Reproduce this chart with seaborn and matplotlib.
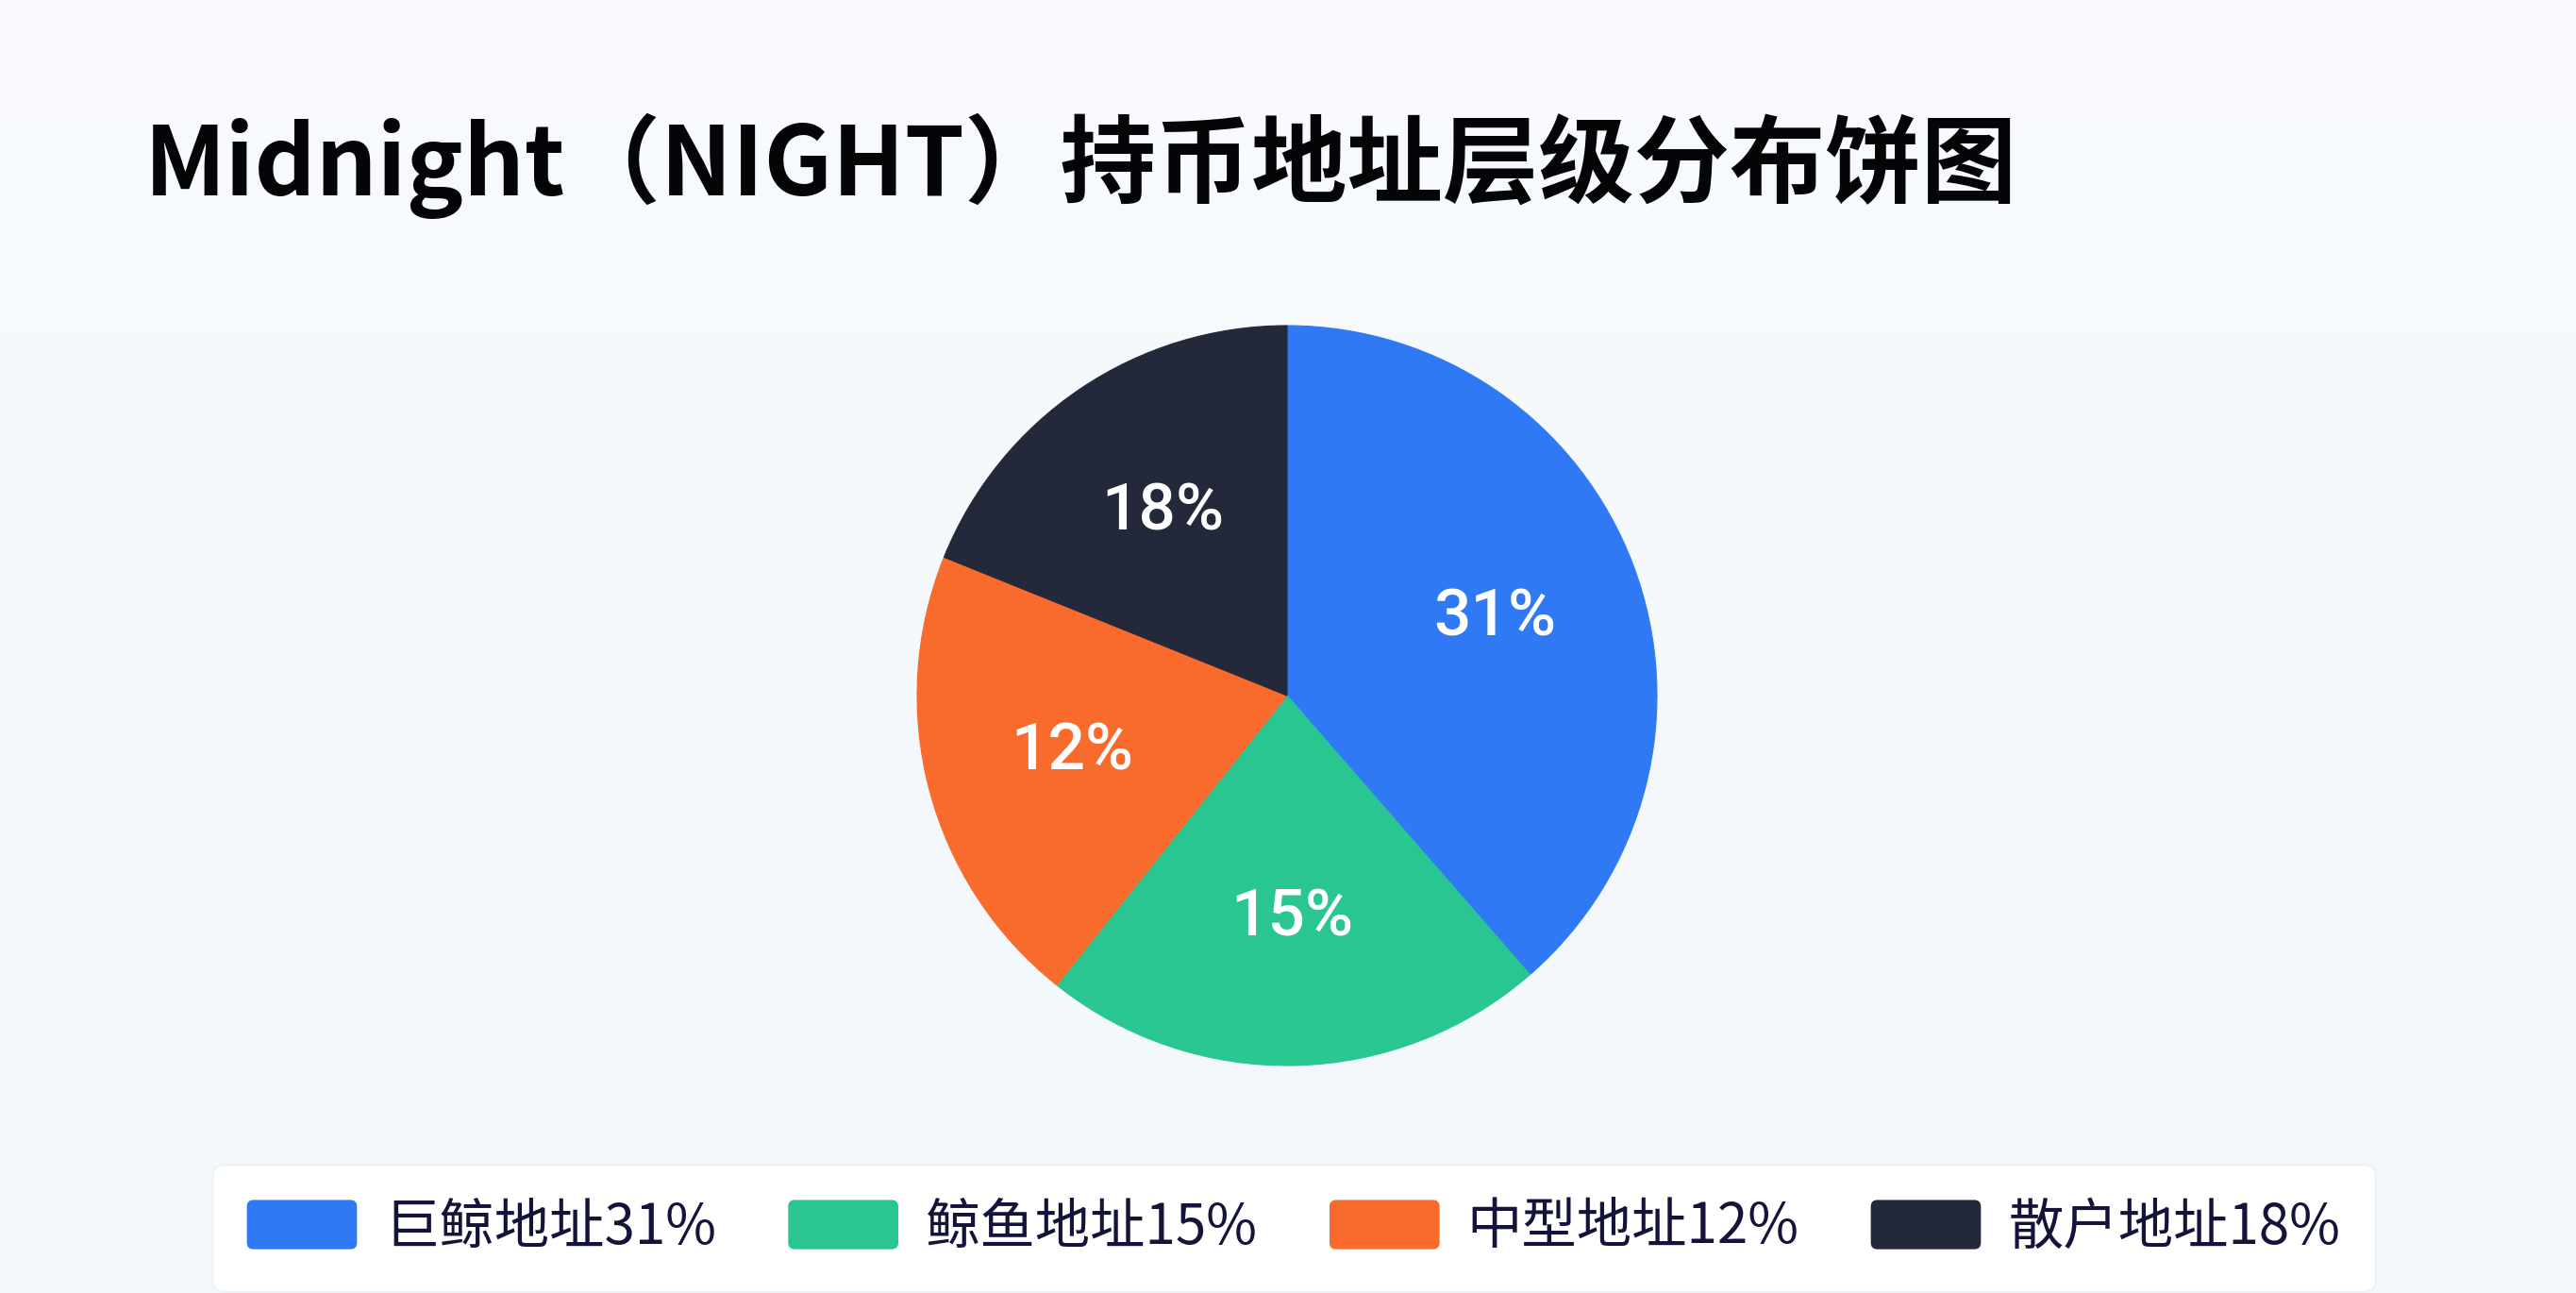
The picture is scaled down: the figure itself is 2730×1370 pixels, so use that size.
import matplotlib
matplotlib.use("Agg")
import matplotlib.pyplot as plt
import seaborn as sns
import numpy as np
from matplotlib.patches import Patch, FancyBboxPatch
from matplotlib.legend_handler import HandlerPatch

# ---- data ----
categories = ["巨鲸地址", "鲸鱼地址", "中型地址", "散户地址"]
pct_labels = [31, 15, 12, 18]                 # percentages printed in the chart
slice_shares = [38.6, 22.1, 20.4, 18.9]       # slice sizes as drawn in the picture
colors = ["#2F7AF4", "#29C692", "#F86B2D", "#23283B"]
title = "Midnight（NIGHT）持币地址层级分布饼图"

sns.set_theme(style="white")
plt.rcParams["font.family"] = ["Noto Sans CJK SC", "DejaVu Sans"]

W, H = 2730, 1370
fig = plt.figure(figsize=(W / 100, H / 100), dpi=100)
bg = "#F5F9FC"
fig.patch.set_facecolor(bg)

# subtle background gradient
bax = fig.add_axes([0, 0, 1, 1], zorder=-10)
top = np.array([0.975, 0.984, 0.993])
bot = np.array([0.950, 0.970, 0.988])
t = np.linspace(0, 1, 256)[:, None]
grad = top[None, :] * (1 - t) + bot[None, :] * t
bax.imshow(grad[:, None, :], aspect="auto", extent=[0, 1, 0, 1])
bax.axis("off")

# pie axes
cx, cy, R = 1364, 737, 392
ax = fig.add_axes([(cx - R) / W, (H - cy - R) / H, 2 * R / W, 2 * R / H])
ax.set_facecolor("none")
wedges, texts = ax.pie(
    slice_shares,
    labels=[f"{p}%" for p in pct_labels],
    colors=sns.color_palette(colors),
    startangle=90,
    counterclock=False,
    radius=1,
    labeldistance=0.6,
    wedgeprops=dict(linewidth=0.8),
    textprops=dict(color="white", fontsize=50, fontweight="medium",
                   ha="center", va="center",
                   family=["Roboto", "Noto Sans CJK SC", "DejaVu Sans"]),
)
for w, c in zip(wedges, colors):
    w.set_edgecolor(c)
ax.set_xlim(-1, 1)
ax.set_ylim(-1, 1)
ax.set_aspect("equal")
ax.axis("off")

# title
fig.text(153 / W, (H - 207) / H, title, ha="left", va="baseline",
         fontsize=73, fontweight="bold", color="#050508")


# rounded legend swatches
class RoundHandler(HandlerPatch):
    def create_artists(self, legend, orig_handle, xdescent, ydescent,
                       width, height, fontsize, trans):
        p = FancyBboxPatch((-xdescent, -ydescent), width, height,
                           boxstyle="round,pad=0,rounding_size=5",
                           facecolor=orig_handle.get_facecolor(),
                           edgecolor="none", transform=trans)
        return [p]


handles = [Patch(facecolor=c, edgecolor="none") for c in colors]
leg_labels = [f"{n}{p}%" for n, p in zip(categories, pct_labels)]
leg = fig.legend(
    handles, leg_labels,
    loc="center", bbox_to_anchor=(1371 / W, 69 / H),
    ncol=4, fontsize=42, frameon=True, fancybox=True,
    handlelength=2.0, handleheight=1.0, handletextpad=0.5,
    columnspacing=1.3, borderpad=0.62,
    handler_map={Patch: RoundHandler()},
)
frame = leg.get_frame()
frame.set_facecolor("white")
frame.set_edgecolor("#EAEFF5")
frame.set_linewidth(1.0)
frame.set_alpha(1.0)
for tx in leg.get_texts():
    tx.set_color("#14143A")

fig.savefig("out.png", dpi=100, facecolor=fig.get_facecolor())
